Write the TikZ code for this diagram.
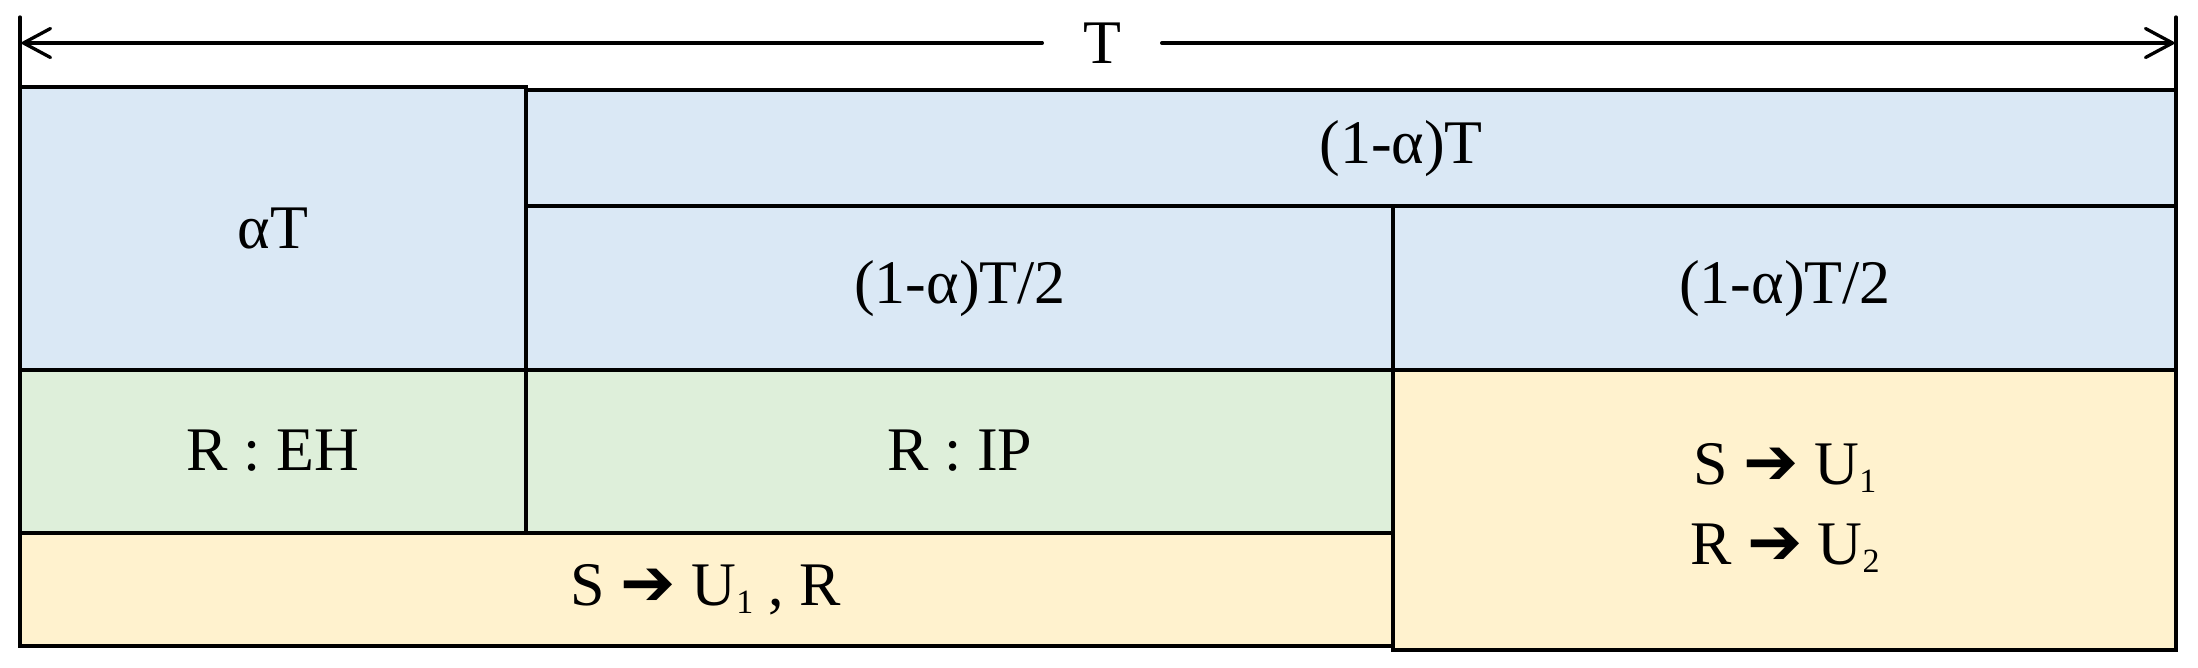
\documentclass[tikz,border=0pt]{standalone}
\usepackage{fontspec}
\setmainfont{Liberation Serif}
\newfontfamily\symfont{DejaVu Sans}
\usetikzlibrary{arrows.meta}
\definecolor{cblue}{RGB}{218,232,245}
\definecolor{cgreen}{RGB}{222,239,218}
\definecolor{cyellow}{RGB}{255,242,206}
\newcommand{\harr}{{\symfont\fontsize{66}{66}\selectfont ➔}}
\newcommand{\sbs}[1]{\raisebox{-0.13em}{\fontsize{34}{34}\selectfont #1}}
\begin{document}
\begin{tikzpicture}[x=1pt,y=-1pt,
  cell/.style={draw=black,line width=3.8pt},
  lbl/.style={font=\fontsize{62}{80}\selectfont, inner sep=0pt, align=center},
  dimline/.style={line width=3.3pt,line cap=round,-{Straight Barb[length=27pt,width=29pt,line cap=round]}},
  tickline/.style={line width=3.3pt,line cap=round}]
\useasboundingbox (0,0) rectangle (2198,668);
% cells
\draw[cell,fill=cblue]   (20,87)    rectangle (526,370);
\draw[cell,fill=cblue]   (526,90)   rectangle (2176,206);
\draw[cell,fill=cblue]   (526,206)  rectangle (1393,370);
\draw[cell,fill=cblue]   (1393,206) rectangle (2176,370);
\draw[cell,fill=cgreen]  (20,370)   rectangle (526,533);
\draw[cell,fill=cgreen]  (526,370)  rectangle (1393,533);
\draw[cell,fill=cyellow] (20,533)   rectangle (1393,646);
\draw[cell,fill=cyellow] (1393,370) rectangle (2176,650);
% labels
\node[lbl] (aT)   at (273,229)  {αT};
\node[lbl] (naT)  at (1401,149) {(1-α)T};
\node[lbl] (hL)   at (960,289)  {(1-α)T/2};
\node[lbl] (hR)   at (1785,289) {(1-α)T/2};
\node[lbl] (EH)   at (273,451)  {R : EH};
\node[lbl] (IP)   at (960,451)  {R : IP};
\node[lbl] (SUR)  at (706,590)  {S \harr{} U\sbs{1} , R};
\node[lbl] (SRU)  at (1785,508) {S \harr{} U\sbs{1}\\R \harr{} U\sbs{2}};
% dimension arrow
\node[lbl, minimum width=119pt] (T) at (1102,43) {T};
\coordinate (Ltop) at (20,17);
\coordinate (Lbot) at (20,87);
\coordinate (Rtop) at (2176,17);
\coordinate (Rbot) at (2176,90);
\coordinate (Lend) at (20,43);
\coordinate (Rend) at (2176,43);
\draw[tickline] (Ltop) -- (Lbot);
\draw[tickline] (Rtop) -- (Rbot);
\draw[dimline] (T.west) -- (Lend);
\draw[dimline] (T.east) -- (Rend);
\end{tikzpicture}
\end{document}
